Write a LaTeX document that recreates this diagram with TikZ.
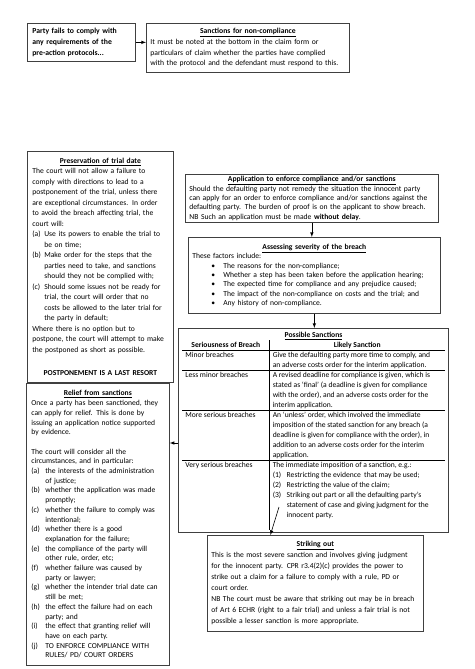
\documentclass[tikz,border=0pt]{standalone}
\usepackage{fontspec}
\setmainfont{Carlito}
\usepackage{array}

\newlength\tagwidth
\setlength\tagwidth{12pt}
\newcommand\boxtitle[1]{{\centering\textbf{\underline{#1}}\par}}
\newcommand\lettered[2]{\par\hangindent=\tagwidth\hangafter=1\noindent\makebox[\tagwidth][l]{#1}#2\par}
\newcommand\factor[1]{\par\noindent\hspace*{19pt}\makebox[12pt][l]{\textbullet}#1\par}

\begin{document}
\begin{tikzpicture}[x=1pt, y=-1pt, >=latex]
	\tikzstyle{panel} = [draw=black!75, line width=0.7pt, anchor=north west, inner xsep=4pt, inner ysep=2pt, align=left]

	\useasboundingbox (0,0) rectangle (474,669);

	\node[panel, inner xsep=5pt, text width=98pt, minimum height=38pt, font=\fontsize{7.7}{11}\selectfont\bfseries] (fails) at (27,23)
		{Party fails to comply with\\ any requirements of the\\ pre-action protocols...};

	\node[panel, text width=195pt, minimum height=49pt, font=\fontsize{7.65}{10.7}\selectfont] (noncomp) at (146,23)
		{\boxtitle{Sanctions for non-compliance}
		It must be noted at the bottom in the claim form or\\
		particulars of claim whether the parties have complied\\
		with the protocol and the defendant must respond to this.};

	\node[panel, inner xsep=5pt, text width=136pt, minimum height=231pt, font=\fontsize{7.6}{10.5}\selectfont] (trialdate) at (27,151)
		{\boxtitle{Preservation of trial date}
		The court will not allow a failure to\\
		comply with directions to lead to a\\
		postponement of the trial, unless there\\
		are exceptional circumstances. In order\\
		to avoid the breach affecting trial, the\\
		court will:
		\lettered{(a)}{Use its powers to enable the trial to\newline be on time;}
		\lettered{(b)}{Make order for the steps that the\newline parties need to take, and sanctions\newline should they not be complied with;}
		\lettered{(c)}{Should some issues not be ready for\newline trial, the court will order that no\newline costs be allowed to the later trial for\newline the party in default;}
		\noindent Where there is no option but to\\
		postpone, the court will attempt to make\\
		the postponed as short as possible.\par
		\vspace{13pt}
		{\centering\textbf{POSTPONEMENT IS A LAST RESORT}\par}};

	\node[panel, text width=245pt, minimum height=48pt, font=\fontsize{7.65}{9.3}\selectfont] (enforce) at (185,174)
		{\boxtitle{Application to enforce compliance and/or sanctions}
		Should the defaulting party not remedy the situation the innocent party\\
		can apply for an order to enforce compliance and/or sanctions against the\\
		defaulting party. The burden of proof is on the applicant to show breach.\\
		NB Such an application must be made \textbf{without delay}.};

	\node[panel, text width=244pt, minimum height=76pt, font=\fontsize{7.6}{9.4}\selectfont] (severity) at (188,237)
		{\boxtitle{Assessing severity of the breach}
		These factors include:
		\factor{The reasons for the non-compliance;}
		\factor{Whether a step has been taken before the application hearing;}
		\factor{The expected time for compliance and any prejudice caused;}
		\factor{The impact of the non-compliance on costs and the trial; and}
		\factor{Any history of non-compliance.}};

	\node[panel, inner xsep=4pt, inner ysep=2pt, font=\fontsize{7.6}{9.9}\selectfont] (sanctions) at (178,328)
		{\setlength\tabcolsep{3pt}\setlength\tagwidth{14pt}%
		\begin{tabular}{p{81pt}|p{169pt}}
		\multicolumn{2}{c}{\textbf{\underline{Possible Sanctions}}}\\
		\multicolumn{1}{c|}{\textbf{Seriousness of Breach}} & \multicolumn{1}{c}{\textbf{Likely Sanction}}\\ \hline
		Minor breaches & Give the defaulting party more time to comply, and\newline
			an adverse costs order for the interim application.\\ \hline
		Less minor breaches & A revised deadline for compliance is given, which is\newline
			stated as `final' (a deadline is given for compliance\newline
			with the order), and an adverse costs order for the\newline
			interim application.\\ \hline
		More serious breaches & An `unless' order, which involved the immediate\newline
			imposition of the stated sanction for any breach (a\newline
			deadline is given for compliance with the order), in\newline
			addition to an adverse costs order for the interim\newline
			application.\\ \hline
		Very serious breaches & The immediate imposition of a sanction, e.g.:
			\lettered{(1)}{Restricting the evidence \ that may be used;}
			\lettered{(2)}{Restricting the value of the claim;}
			\lettered{(3)}{Striking out part or all the defaulting party's\newline statement of case and giving judgment for the\newline innocent party.}\\
		\end{tabular}};

	\node[panel, inner xsep=5pt, text width=133pt, minimum height=282pt, font=\fontsize{7.6}{9.7}\selectfont] (relief) at (26,383)
		{\setlength\tagwidth{14pt}%
		\boxtitle{Relief from sanctions}
		Once a party has been sanctioned, they\\
		can apply for relief. This is done by\\
		issuing an application notice supported\\
		by evidence.\par
		\vspace{9.7pt}
		\noindent The court will consider all the\\
		circumstances, and in particular:
		\lettered{(a)}{the interests of the administration\newline of justice;}
		\lettered{(b)}{whether the application was made\newline promptly;}
		\lettered{(c)}{whether the failure to comply was\newline intentional;}
		\lettered{(d)}{whether there is a good\newline explanation for the failure;}
		\lettered{(e)}{the compliance of the party will\newline other rule, order, etc;}
		\lettered{(f)}{whether failure was caused by\newline party or lawyer;}
		\lettered{(g)}{whether the intender trial date can\newline still be met;}
		\lettered{(h)}{the effect the failure had on each\newline party; and}
		\lettered{(i)}{the effect that granting relief will\newline have on each party.}
		\lettered{(j)}{TO ENFORCE COMPLIANCE WITH\newline RULES/ PD/ COURT ORDERS}};

	\node[panel, text width=208pt, minimum height=96pt, font=\fontsize{7.6}{11}\selectfont] (strikeout) at (207,535)
		{\boxtitle{Striking out}
		This is the most severe sanction and involves giving judgment\\
		for the innocent party. CPR r3.4(2)(c) provides the power to\\
		strike out a claim for a failure to comply with a rule, PD or\\
		court order.\\
		NB The court must be aware that striking out may be in breach\\
		of Art 6 ECHR (right to a fair trial) and unless a fair trial is not\\
		possible a lesser sanction is more appropriate.};

	\coordinate (reliefrow) at (178,443);
	\coordinate (strikerow) at (279,507);

	\draw[->, line width=0.6pt] (fails.east) -- (fails.east -| noncomp.west);
	\draw[->, line width=0.6pt] (enforce.south) -- (enforce.south |- severity.north);
	\draw[->, line width=0.6pt] (severity.south) -- (severity.south |- sanctions.north);
	\draw[->, line width=0.6pt] (reliefrow) -- (reliefrow -| relief.east);
	\draw[->, line width=0.6pt] (strikerow) -- ([xshift=-45pt]strikeout.north);
\end{tikzpicture}
\end{document}
